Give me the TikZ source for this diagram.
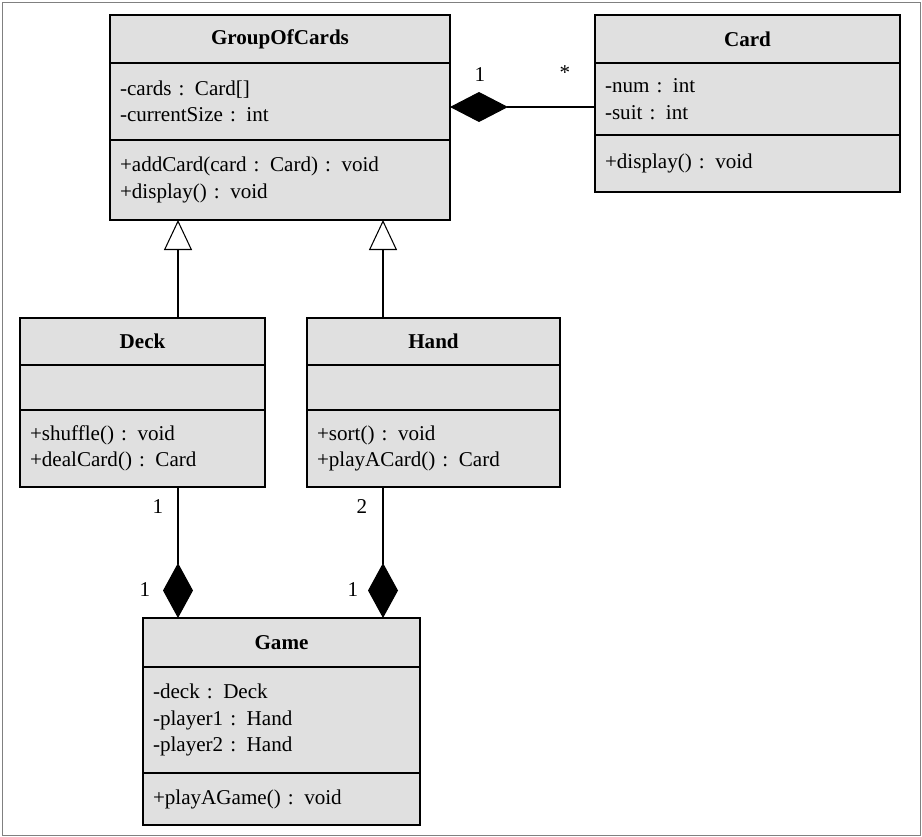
\documentclass[tikz,border=0pt]{standalone}
\usepackage{fontspec}
\setmainfont{Liberation Serif}
\usepackage{xcolor}
\usetikzlibrary{positioning,arrows.meta}
\definecolor{boxgray}{HTML}{E0E0E0}
\begin{document}
\begin{tikzpicture}[
  head/.style={draw, fill=boxgray, line width=0.6pt, outer sep=0pt, font=\fontsize{12}{15}\selectfont\bfseries, align=center},
  body/.style={draw, fill=boxgray, line width=0.6pt, outer sep=0pt, font=\fontsize{12}{15}\selectfont, align=left, text width=#1, inner xsep=0.2cm},
  comp/.style={draw, line width=0.6pt, -{Diamond[length=#1, width=0.6cm, fill=black]}},
  inherit/.style={draw, line width=0.6pt, -{Triangle[open, length=0.6cm, width=0.56cm, fill=white]}},
  mult/.style={font=\fontsize{12}{15}\selectfont}]
\useasboundingbox (0,0) rectangle (18.44,-16.74);
\draw[gray, line width=0.5pt] (0.04,-0.04) rectangle (18.4,-16.7);

% GroupOfCards
\node[head, minimum width=6.8cm, minimum height=0.96cm] (goc) at (5.6,-0.78) {GroupOfCards};
\node[body=6.4cm, minimum height=1.54cm, below=0pt of goc] (goc-a) {-cards : Card[]\\-currentSize : int};
\node[body=6.4cm, minimum height=1.6cm, below=0pt of goc-a] (goc-m) {+addCard(card : Card) : void\\+display() : void};

% Card
\node[head, minimum width=6.1cm, minimum height=0.96cm] (card) at (14.95,-0.78) {Card};
\node[body=5.7cm, minimum height=1.44cm, below=0pt of card] (card-a) {-num : int\\-suit : int};
\node[body=5.7cm, minimum height=1.14cm, below=0pt of card-a] (card-m) {+display() : void};

% Deck
\node[head, minimum width=4.9cm, minimum height=0.94cm] (deck) at (2.85,-6.83) {Deck};
\node[body=4.5cm, minimum height=0.9cm, below=0pt of deck] (deck-a) {};
\node[body=4.5cm, minimum height=1.54cm, below=0pt of deck-a] (deck-m) {+shuffle() : void\\+dealCard() : Card};

% Hand
\node[head, minimum width=5.06cm, minimum height=0.94cm] (hand) at (8.67,-6.83) {Hand};
\node[body=4.66cm, minimum height=0.9cm, below=0pt of hand] (hand-a) {};
\node[body=4.66cm, minimum height=1.54cm, below=0pt of hand-a] (hand-m) {+sort() : void\\+playACard() : Card};

% Game
\node[head, minimum width=5.54cm, minimum height=0.98cm] (game) at (5.63,-12.85) {Game};
\node[body=5.14cm, minimum height=2.12cm, below=0pt of game] (game-a) {-deck : Deck\\-player1 : Hand\\-player2 : Hand};
\node[body=5.14cm, minimum height=1.04cm, below=0pt of game-a] (game-m) {+playAGame() : void};

% connectors
\coordinate (ld) at ([xshift=-2.04cm]goc-m.south);
\coordinate (lh) at ([xshift=2.06cm]goc-m.south);
\coordinate (lc) at ([yshift=-0.16cm]card-a.west);
\draw[comp=1.16cm] (lc) -- (lc -| goc-a.east);
\draw[inherit] (ld |- deck.north) -- (ld);
\draw[inherit] (lh |- hand.north) -- (lh);
\draw[comp=1.1cm] (ld |- deck-m.south) -- (ld |- game.north);
\draw[comp=1.1cm] (lh |- hand-m.south) -- (lh |- game.north);

% multiplicities
\node[mult] (m1) at (9.6,-1.5) {1};
\node[mult] (m2) at (11.3,-1.45) {*};
\node[mult] (m3) at (3.16,-10.14) {1};
\node[mult] (m4) at (2.9,-11.8) {1};
\node[mult] (m5) at (7.24,-10.14) {2};
\node[mult] (m6) at (7.06,-11.8) {1};
\end{tikzpicture}
\end{document}
